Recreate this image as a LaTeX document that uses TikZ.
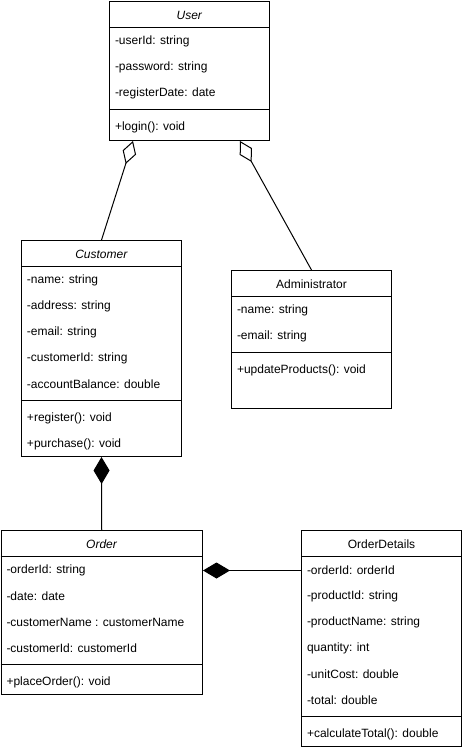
\documentclass[tikz,border=0pt]{standalone}
\usepackage{fontspec}
\setmainfont{Liberation Sans}
\usepackage{tikz}
\usetikzlibrary{
    arrows.meta,
    calc,
    positioning
}
\tikzset{
    classbox/.style={draw, anchor=north west, minimum width=160pt, inner sep=0pt},
    classrow/.style={anchor=west, inner sep=0pt},
    aggregation/.style={-{Diamond[open, fill=white, length=24pt, width=14pt]}},
    composition/.style={-{Diamond[length=27pt, width=16pt]}}
}
% #1 name, #2 box options, #3 top left, #4 title, #5 number of attributes, #6 attributes, #7 methods
\newcommand{\umlclass}[7]{
    \node[classbox, #2] (#1) at (#3) {};
    \node (#1-title) at ($(#1.north) + (0, 14)$) {#4};
    \draw ($(#1.north west) + (0, 26)$) -- ($(#1.north east) + (0, 26)$);
    \foreach \attr [count=\i] in {#6}
        \node[classrow] (#1-a\i) at ($(#1.north west) + (5.5, {14.5 + 26*\i})$) {\attr};
    \draw ($(#1.north west) + (0, {30 + 26*#5})$) -- ($(#1.north east) + (0, {30 + 26*#5})$);
    \foreach \meth [count=\i] in {#7}
        \node[classrow] (#1-m\i) at ($(#1.north west) + (5.5, {22.5 + 26*#5 + 26*\i})$) {\meth};
}
\begin{document}
\begin{tikzpicture}[x=1pt, y=-1pt, line width=1pt, font=\fontsize{12}{14}\selectfont]
    \useasboundingbox (0, 0) rectangle (463, 750);
    \umlclass{user}{minimum height=139pt}{109, 1}{\textit{User}}{3}
        {-userId: string, -password: string, -registerDate: date}{+login(): void}
    \umlclass{customer}{minimum height=216pt}{21, 240}{\textit{Customer}}{5}
        {-name: string, -address: string, -email: string, -customerId: string, -accountBalance: double}
        {+register(): void, +purchase(): void}
    \umlclass{admin}{minimum height=138pt}{231, 270}{Administrator}{2}
        {-name: string, -email: string}{+updateProducts(): void}
    \umlclass{order}{minimum width=201.5pt, minimum height=164pt}{0.5, 530}{\textit{Order}}{4}
        {-orderId: string, -date: date, -customerName : customerName, -customerId: customerId}
        {+placeOrder(): void}
    \umlclass{orderdetails}{minimum height=216pt}{301, 530}{OrderDetails}{6}
        {-orderId: orderId, -productId: string, -productName: string, quantity: int, -unitCost: double, -total: double}
        {+calculateTotal(): double}

    % relations
    \draw[aggregation] (customer.north) -- ($(user.south west) + (24, 0)$);
    \draw[aggregation] (admin.north) -- ($(user.south west) + (131, 0)$);
    \draw[composition] (orderdetails-a1 -| orderdetails.west) -- (order-a1 -| order.east);
    \draw[composition] (order.north) -- (customer.south);
\end{tikzpicture}
\end{document}
